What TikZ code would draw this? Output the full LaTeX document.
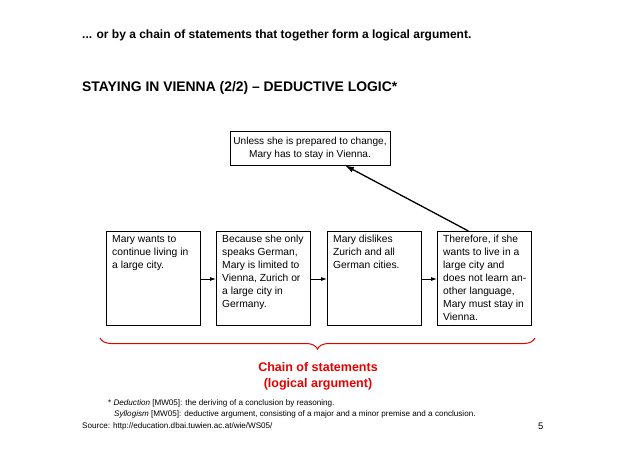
\documentclass[tikz,border=0pt]{standalone}
\usepackage{fontspec}
\setmainfont{Liberation Sans}
\usetikzlibrary{arrows.meta,decorations.pathreplacing}
\definecolor{cred}{RGB}{230,0,0}
\tikzset{
 sbox/.style={draw,line width=0.8pt,anchor=north west,minimum width=94pt,minimum height=94pt,inner sep=0},
 btext/.style={anchor=north west,align=left,inner sep=0,font=\fontsize{10.3}{13}\selectfont},
 conn/.style={-{Latex[length=6pt,width=4pt]},line width=0.8pt},
 note/.style={anchor=west,font=\fontsize{8.1}{9}\selectfont,inner sep=0}
}
\begin{document}
\begin{tikzpicture}[x=1pt,y=-1pt]
\useasboundingbox (0,0) rectangle (638,451);
\node[anchor=west,font=\bfseries\fontsize{12}{13}\selectfont,inner sep=0] (t1) at (82,35) {... or by a chain of statements that together form a logical argument.};
\node[anchor=west,font=\bfseries\fontsize{13.9}{14}\selectfont,inner sep=0] (t2) at (82,88) {STAYING IN VIENNA (2/2) – DEDUCTIVE LOGIC*};
\node[draw,line width=0.8pt,minimum width=160pt,minimum height=34pt,align=center,inner sep=2pt,font=\fontsize{10.1}{13}\selectfont] (top) at (310,148) {Unless she is prepared to change,\\Mary has to stay in Vienna.};
\node[sbox] (b1) at (106,231) {};
\node[btext] (x1) at (112,235) {Mary wants to\\continue living in\\a large city.};
\node[sbox] (b2) at (216,231) {};
\node[btext] (x2) at (222,235) {Because she only\\speaks German,\\Mary is limited to\\Vienna, Zurich or\\a large city in\\Germany.};
\node[sbox] (b3) at (327,231) {};
\node[btext] (x3) at (333,235) {Mary dislikes\\Zurich and all\\German cities.};
\node[sbox] (b4) at (437,231) {};
\node[btext] (x4) at (443,235) {Therefore, if she\\wants to live in a\\large city and\\does not learn an-\\other language,\\Mary must stay in\\Vienna.};
\draw[conn] ([yshift=-48pt]b1.north east) -- ([yshift=-48pt]b2.north west);
\draw[conn] ([yshift=-48pt]b2.north east) -- ([yshift=-48pt]b3.north west);
\draw[conn] ([yshift=-48pt]b3.north east) -- ([yshift=-48pt]b4.north west);
\draw[conn,line width=1.3pt,-{Latex[length=9pt,width=6pt]}] ([xshift=-16pt]b4.north) -- ([xshift=35pt]top.south);
\draw[cred,line width=1pt,decorate,decoration={brace,amplitude=11pt,mirror}] (100,338) coordinate (bl) -- (535,338) coordinate (br);
\node[text=cred,font=\bfseries\fontsize{12.5}{16}\selectfont,align=center] (chain) at (318,376) {Chain of statements\\(logical argument)};
\node[note] (n1) at (108,403) {* \textit{Deduction} [MW05]: the deriving of a conclusion by reasoning.};
\node[note] (n2) at (114,414) {\textit{Syllogism} [MW05]: deductive argument, consisting of a major and a minor premise and a conclusion.};
\node[note] (n3) at (82,426) {Source: http://education.dbai.tuwien.ac.at/wie/WS05/};
\node[note,font=\fontsize{9.5}{10}\selectfont] (pg) at (538,426) {5};
\end{tikzpicture}
\end{document}
